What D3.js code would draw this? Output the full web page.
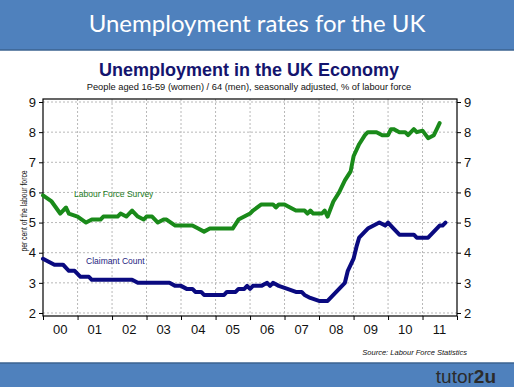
<!DOCTYPE html>
<html>
<head>
<meta charset="utf-8">
<script src="https://cdn.jsdelivr.net/npm/d3@7"></script>
<style>
body { margin: 0; background: #fff; }
svg { display: block; }
</style>
</head>
<body>
<svg id="main" width="514" height="387"></svg>
<script>
// labour force survey, % (month, value)
lfsMonths = ["2000-01","2000-04","2000-07","2000-09","2000-10","2001-01","2001-04","2001-06","2001-09","2001-10",
  "2002-03","2002-04","2002-06","2002-08","2002-10","2002-12","2003-01","2003-03","2003-05","2003-07","2003-08",
  "2003-11","2004-02","2004-05","2004-07","2004-09","2004-11","2005-07","2005-09","2005-11","2006-01","2006-02",
  "2006-05","2006-09","2006-10","2006-11","2007-01","2007-03","2007-05","2007-08","2007-09","2007-10","2007-11",
  "2008-01","2008-02","2008-03","2008-04","2008-06","2008-08","2008-10","2008-12","2009-01","2009-03","2009-05",
  "2009-06","2009-09","2009-11","2010-01","2010-02","2010-03","2010-05","2010-07","2010-08","2010-10","2010-11",
  "2011-01","2011-03","2011-05","2011-06","2011-07"]
lfsValues = [5.9,5.7,5.3,5.5,5.3,5.2,5.0,5.1,5.1,5.2,
  5.2,5.3,5.2,5.4,5.2,5.1,5.2,5.2,5.0,5.1,5.1,
  4.9,4.9,4.9,4.8,4.7,4.8,4.8,5.1,5.2,5.3,5.4,
  5.6,5.6,5.5,5.6,5.6,5.5,5.4,5.4,5.3,5.4,5.3,
  5.3,5.3,5.4,5.2,5.7,6.0,6.4,6.7,7.2,7.6,7.9,
  8.0,8.0,7.9,7.9,8.1,8.1,8.0,8.0,7.9,8.1,8.0,
  8.05,7.8,7.9,8.1,8.3]

// claimant count, %
ccMonths = ["2000-01","2000-03","2000-05","2000-08","2000-09","2000-10","2000-12","2001-02","2001-05","2001-06",
  "2002-08","2002-10","2003-09","2003-11","2004-01","2004-03","2004-05","2004-06","2004-08","2004-09",
  "2005-04","2005-05","2005-08","2005-09","2005-11","2005-12","2006-01","2006-02","2006-05","2006-07",
  "2006-08","2006-09","2006-11","2007-02","2007-05","2007-07","2007-08","2007-10","2008-01","2008-04",
  "2008-06","2008-08","2008-10","2008-11","2009-01","2009-02","2009-03","2009-05","2009-06","2009-08",
  "2009-10","2009-12","2010-01","2010-03","2010-05","2010-10","2010-11","2011-03","2011-05","2011-07",
  "2011-08","2011-09"]
ccValues = [3.8,3.7,3.6,3.6,3.5,3.4,3.4,3.2,3.2,3.1,
  3.1,3.0,3.0,2.9,2.9,2.8,2.8,2.7,2.7,2.6,
  2.6,2.7,2.7,2.8,2.8,2.9,2.8,2.9,2.9,3.0,
  2.9,3.0,2.9,2.8,2.7,2.7,2.6,2.5,2.4,2.4,
  2.6,2.8,3.0,3.4,3.8,4.2,4.5,4.7,4.8,4.9,
  5.0,4.9,5.0,4.8,4.6,4.6,4.5,4.5,4.7,4.9,
  4.9,5.0]

yearLabels = ["00","01","02","03","04","05","06","07","08","09","10","11"]
yTicks = [2,3,4,5,6,7,8,9]

svg = d3.select("#main")
parse = d3.timeParse("%Y-%m")
font = "Arial, 'Liberation Sans', sans-serif"

// slide bands
svg.append("rect").attr("x",0).attr("y",0).attr("width",514).attr("height",50).attr("fill","#4f81bd")
svg.append("line").attr("x1",0).attr("x2",514).attr("y1",50).attr("y2",50).attr("stroke","#3b6390").attr("stroke-width",1.5)
svg.append("text").attr("x",257).attr("y",32).attr("text-anchor","middle")
  .attr("font-family","Lato, 'Open Sans', sans-serif").attr("font-size",24).attr("fill","#fff")
  .text("Unemployment rates for the UK")

svg.append("rect").attr("x",0).attr("y",363).attr("width",514).attr("height",24).attr("fill","#4f81bd")
svg.append("line").attr("x1",0).attr("x2",514).attr("y1",363).attr("y2",363).attr("stroke","#3b6390").attr("stroke-width",1.5)
var logo = svg.append("text").attr("x",496).attr("y",383).attr("text-anchor","end")
  .attr("font-family",font).attr("font-size",19).attr("fill","#2b2b2b")
logo.append("tspan").text("tutor")
logo.append("tspan").attr("font-weight","bold").text("2u")

// chart titles
svg.append("text").attr("x",249).attr("y",76).attr("text-anchor","middle")
  .attr("font-family",font).attr("font-size",18).attr("font-weight","bold")
  .attr("fill","#14146e").text("Unemployment in the UK Economy")
svg.append("text").attr("x",249).attr("y",90).attr("text-anchor","middle")
  .attr("font-family",font).attr("font-size",9.3).attr("fill","#111")
  .text("People aged 16-59 (women) / 64 (men), seasonally adjusted, % of labour force")

var pLeft = 43, pRight = 457, pTop = 99, pBottom = 316

x = d3.scaleTime().domain([new Date(2000,0,1), new Date(2012,0,1)]).range([pLeft, pRight])
y = d3.scaleLinear().domain([1.9, 9.1]).range([pBottom, pTop])

var years = d3.range(2000, 2013).map(function(yr){ return new Date(yr,0,1) })

// grid
svg.append("g").selectAll("line").data(yTicks).join("line")
  .attr("x1",pLeft).attr("x2",pRight).attr("y1",function(d){ return y(d) }).attr("y2",function(d){ return y(d) })
  .attr("stroke","#b8b8b8").attr("stroke-dasharray","2,2")
svg.append("g").selectAll("line").data(years.slice(1,-1)).join("line")
  .attr("x1",function(d){ return x(d) }).attr("x2",function(d){ return x(d) }).attr("y1",pTop).attr("y2",pBottom)
  .attr("stroke","#b8b8b8").attr("stroke-dasharray","2,2")

// axes
var yl = svg.append("g").attr("transform","translate("+pLeft+",0)")
  .call(d3.axisLeft(y).tickValues(yTicks).tickSize(4).tickSizeOuter(0))
var yr = svg.append("g").attr("transform","translate("+pRight+",0)")
  .call(d3.axisRight(y).tickValues(yTicks).tickSize(4).tickSizeOuter(0))
var xa = svg.append("g").attr("transform","translate(0,"+pBottom+")")
  .call(d3.axisBottom(x).tickValues(years).tickSize(4).tickFormat("").tickSizeOuter(0))
;[yl, yr, xa].forEach(function(g){
  g.select(".domain").remove()
  g.selectAll("line").attr("stroke","#000")
  g.selectAll("text").attr("font-family",font).attr("font-size",13).attr("fill","#111")
})

svg.append("g").selectAll("text").data(yearLabels).join("text")
  .attr("x",function(d,i){ return x(new Date(2000+i,6,1)) }).attr("y",334).attr("text-anchor","middle")
  .attr("font-family",font).attr("font-size",13).attr("fill","#111")
  .text(function(d){ return d })

svg.append("rect").attr("x",pLeft).attr("y",pTop).attr("width",pRight-pLeft).attr("height",pBottom-pTop)
  .attr("fill","none").attr("stroke","#000").attr("stroke-width",1.2)

// y title
svg.append("text").attr("transform","translate(27,211) rotate(-90) scale(0.8,1)").attr("text-anchor","middle")
  .attr("font-family",font).attr("font-size",8.5).attr("fill","#111")
  .text("per cent of the labour force")

// lines
var line = d3.line().x(function(d){ return x(d.date) }).y(function(d){ return y(d.value) })
var lfs = lfsMonths.map(function(m,i){ return {date: parse(m), value: lfsValues[i]} })
var cc = ccMonths.map(function(m,i){ return {date: parse(m), value: ccValues[i]} })

svg.append("path").attr("d", line(lfs)).attr("fill","none").attr("stroke","#1a8a1a")
  .attr("stroke-width",4).attr("stroke-linejoin","round").attr("stroke-linecap","round")
svg.append("path").attr("d", line(cc)).attr("fill","none").attr("stroke","#0a0a80")
  .attr("stroke-width",4).attr("stroke-linejoin","round").attr("stroke-linecap","round")

// series labels
svg.append("text").attr("x",74).attr("y",197).attr("font-family",font)
  .attr("font-size",8.5).attr("fill","#1a7a1a").text("Labour Force Survey")
svg.append("text").attr("x",86).attr("y",264).attr("font-family",font)
  .attr("font-size",8.5).attr("fill","#232380").text("Claimant Count")

svg.append("text").attr("x",467).attr("y",355).attr("text-anchor","end")
  .attr("font-family",font).attr("font-size",7.5).attr("font-style","italic")
  .attr("fill","#111").text("Source: Labour Force Statistics")
</script>
</body>
</html>
